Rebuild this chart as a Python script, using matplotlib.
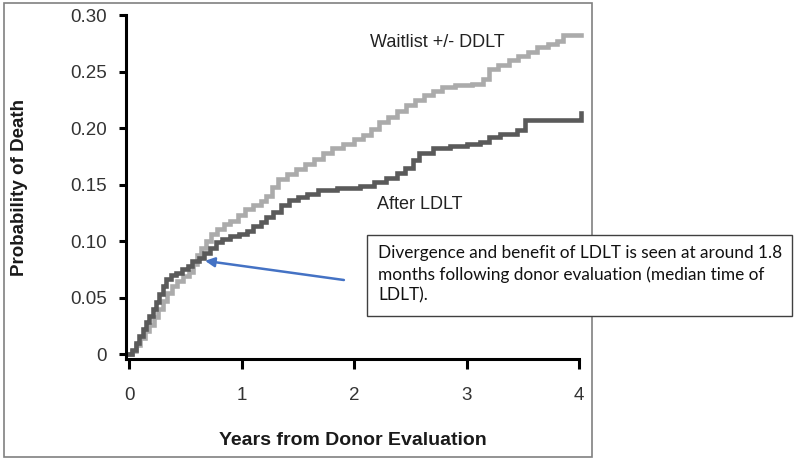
import matplotlib
matplotlib.use("Agg")
import matplotlib.pyplot as plt
from matplotlib.patches import Rectangle

# step points (years, cumulative probability of death)
ldlt_years = [0.00, 0.03, 0.06, 0.09, 0.12, 0.15, 0.18, 0.21, 0.24, 0.27, 0.30, 0.33,
              0.37, 0.42, 0.47, 0.52, 0.56, 0.62, 0.67, 0.72, 0.77, 0.83, 0.90, 0.98,
              1.05, 1.10, 1.17, 1.22, 1.28, 1.35, 1.42, 1.50, 1.58, 1.68, 1.85, 2.05,
              2.18, 2.28, 2.38, 2.45, 2.52, 2.58, 2.70, 2.85, 3.00, 3.12, 3.20, 3.30,
              3.45, 3.52, 4.00, 4.02]
ldlt_prob = [0.000, 0.004, 0.010, 0.016, 0.022, 0.028, 0.034, 0.040, 0.046, 0.053, 0.060, 0.066,
             0.070, 0.072, 0.075, 0.078, 0.082, 0.085, 0.089, 0.094, 0.099, 0.102, 0.104, 0.106,
             0.109, 0.113, 0.117, 0.121, 0.126, 0.132, 0.136, 0.139, 0.142, 0.145, 0.147, 0.149,
             0.152, 0.156, 0.160, 0.165, 0.172, 0.178, 0.182, 0.184, 0.186, 0.188, 0.192, 0.195,
             0.198, 0.207, 0.207, 0.213]

wait_years = [0.00, 0.03, 0.06, 0.10, 0.14, 0.18, 0.22, 0.26, 0.30, 0.34, 0.38, 0.43,
              0.48, 0.53, 0.57, 0.60, 0.64, 0.68, 0.73, 0.78, 0.84, 0.90, 0.97, 1.03,
              1.10, 1.17, 1.22, 1.27, 1.32, 1.40, 1.48, 1.56, 1.64, 1.72, 1.80, 1.90,
              2.00, 2.08, 2.15, 2.22, 2.30, 2.38, 2.46, 2.54, 2.62, 2.70, 2.78, 2.90,
              3.05, 3.15, 3.20, 3.28, 3.38, 3.46, 3.55, 3.63, 3.72, 3.80, 3.86, 4.02]
wait_prob = [0.000, 0.003, 0.008, 0.014, 0.020, 0.026, 0.033, 0.040, 0.047, 0.054, 0.060, 0.065,
             0.069, 0.073, 0.080, 0.088, 0.094, 0.100, 0.106, 0.111, 0.115, 0.118, 0.123, 0.128,
             0.132, 0.135, 0.140, 0.148, 0.155, 0.159, 0.164, 0.168, 0.173, 0.178, 0.182, 0.186,
             0.190, 0.194, 0.199, 0.205, 0.210, 0.215, 0.220, 0.225, 0.229, 0.233, 0.236, 0.238,
             0.239, 0.243, 0.252, 0.256, 0.260, 0.264, 0.267, 0.272, 0.274, 0.277, 0.282, 0.282]

y_ticks = [0, 0.05, 0.10, 0.15, 0.20, 0.25, 0.30]
y_tick_labels = ["0", "0.05", "0.10", "0.15", "0.20", "0.25", "0.30"]
x_ticks = [0, 1, 2, 3, 4]

note = ("Divergence and benefit of LDLT is seen at around 1.8\n"
        "months following donor evaluation (median time of\n"
        "LDLT).")

plt.rcParams['font.family'] = ['Liberation Sans', 'DejaVu Sans']

fig = plt.figure(figsize=(8, 4.66), dpi=100)
W, H = 800, 466

# outer frame around the original figure
fig.patches.append(Rectangle((4 / W, 1 - 457 / H), 588 / W, 454 / H, transform=fig.transFigure,
                             fill=False, edgecolor="#808080", linewidth=1.2))

ax = fig.add_axes([126 / W, 1 - 359 / H, 453 / W, 344 / H])
ax.plot(wait_years, wait_prob, drawstyle="steps-post", color="#ababab", lw=3.3,
        clip_on=False, solid_joinstyle="miter")
ax.plot(ldlt_years, ldlt_prob, drawstyle="steps-post", color="#5a5a5a", lw=3.3,
        clip_on=False, solid_joinstyle="miter")

ax.set_xlim(-0.027, 4.0)
ax.set_ylim(-0.0044, 0.30)
for s in ["top", "right"]:
    ax.spines[s].set_visible(False)
for s in ["left", "bottom"]:
    ax.spines[s].set_linewidth(2.2)
    ax.spines[s].set_color("black")

ax.set_yticks(y_ticks)
ax.set_yticklabels(y_tick_labels)
ax.set_xticks(x_ticks)
ax.tick_params(axis="y", direction="out", length=5, width=2.2, labelsize=13.5,
               labelcolor="#333333", pad=9)
ax.tick_params(axis="x", direction="out", length=7, width=2.2, labelsize=13.5,
               labelcolor="#333333", pad=13)

ax.set_xlabel("Years from Donor Evaluation", fontsize=14, fontweight="bold",
              color="#1a1a1a", labelpad=20)
ax.set_ylabel("Probability of Death", fontsize=13.5, fontweight="bold",
              color="#1a1a1a", labelpad=30)

ax.text(2.14, 0.2755, "Waitlist +/- DDLT", fontsize=13, color="#222222",
        ha="left", va="center")
ax.text(2.2, 0.1325, "After LDLT", fontsize=13, color="#222222",
        ha="left", va="center")

# arrow pointing at the divergence point
ax.annotate("", xy=(0.675, 0.0825), xytext=(1.91, 0.0655),
            arrowprops=dict(arrowstyle="-|>", color="#4472c4", lw=1.8,
                            mutation_scale=14, shrinkA=0, shrinkB=0),
            annotation_clip=False)

fig.patches.append(Rectangle((367 / W, 1 - 316 / H), 425 / W, 81 / H, transform=fig.transFigure,
                             facecolor="white", edgecolor="#404040", linewidth=1.0, zorder=5))
fig.text(378 / W, 1 - 245 / H, note, fontsize=12.4, family=["Lato", "DejaVu Sans"],
         color="#111111", ha="left", va="top", linespacing=1.38, zorder=6)

fig.savefig("out.png", dpi=100)
